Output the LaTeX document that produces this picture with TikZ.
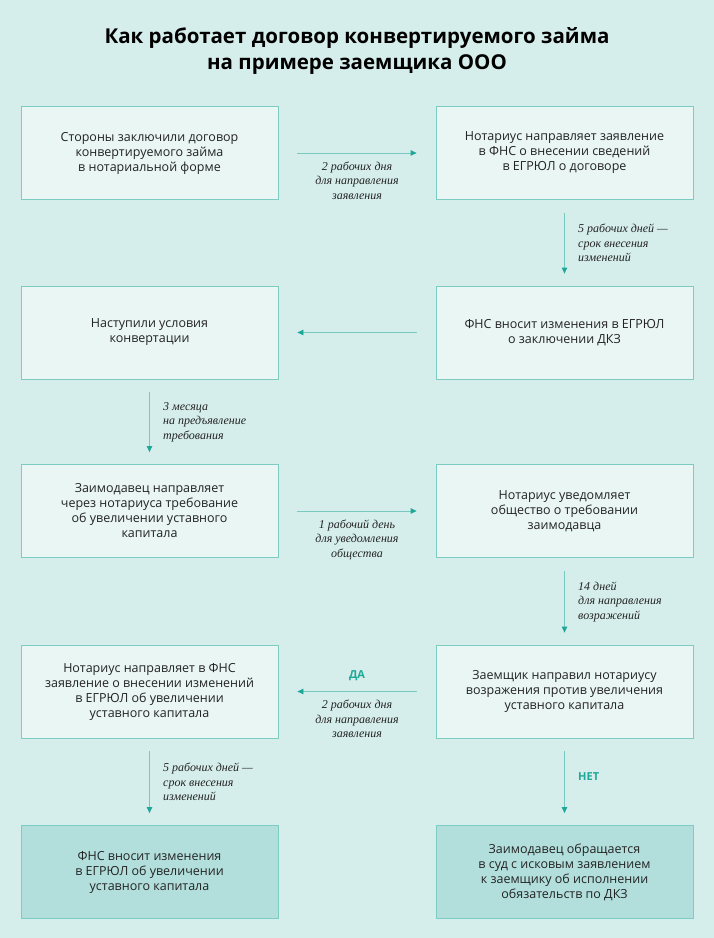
\documentclass[tikz,border=0pt]{standalone}
\usepackage{fontspec}
\setmainfont{Open Sans}
\newfontfamily\notefont{Liberation Serif}
\newfontfamily\titlefont{Open Sans}
\usepackage{xcolor}
\definecolor{mintbg}{RGB}{214,238,235}
\definecolor{mintbox}{RGB}{233,246,244}
\definecolor{mintdark}{RGB}{178,223,220}
\definecolor{mintline}{RGB}{124,204,193}
\definecolor{arrowline}{RGB}{120,202,192}
\definecolor{tealarrow}{RGB}{30,168,152}
\definecolor{darktext}{RGB}{35,35,35}
\usepackage{tikz}
\usetikzlibrary{arrows.meta}

\begin{document}
\begin{tikzpicture}[x=1pt,y=-1pt,
    stage/.style={draw=mintline, fill=mintbox, line width=0.8pt, minimum width=257pt, minimum height=93pt, align=center, text=darktext, font=\fontsize{12.5}{15}\selectfont},
    final/.style={stage, fill=mintdark},
    flow/.style={draw=arrowline, line width=0.8pt, -{Triangle[length=6pt,width=5.5pt,color=tealarrow]}},
    note/.style={text=darktext, font=\notefont\itshape\fontsize{12}{14.5}\selectfont},
    answer/.style={text=tealarrow, font=\bfseries\fontsize{11}{13}\selectfont}]
            % Background
            \fill[mintbg] (0,0) rectangle (714,938);
            \useasboundingbox (0,0) rectangle (714,938);

            % Title
            \node[align=center, text=black, font=\titlefont\bfseries\fontsize{20.5}{26}\selectfont] (title) at (357,51) {Как работает договор конвертируемого займа\\на примере заемщика ООО};

            % Stages
            \node[stage] (signed) at (149.5,153) {Стороны заключили договор\\конвертируемого займа\\в нотариальной форме};
            \node[stage] (notary) at (564.5,153) {Нотариус направляет заявление\\в ФНС о внесении сведений\\в ЕГРЮЛ о договоре};
            \node[stage] (fnsdkz) at (564.5,332.5) {ФНС вносит изменения в ЕГРЮЛ\\о заключении ДКЗ};
            \node[stage] (convert) at (149.5,332.5) {Наступили условия\\конвертации};
            \node[stage] (demand) at (149.5,511) {Заимодавец направляет\\через нотариуса требование\\об увеличении уставного\\капитала};
            \node[stage] (inform) at (564.5,511) {Нотариус уведомляет\\общество о требовании\\заимодавца};
            \node[stage] (object) at (564.5,691.5) {Заемщик направил нотариусу\\возражения против увеличения\\уставного капитала};
            \node[stage] (apply) at (149.5,691.5) {Нотариус направляет в ФНС\\заявление о внесении изменений\\в ЕГРЮЛ об увеличении\\уставного капитала};

            % Outcomes
            \node[final] (fnscap) at (149.5,872) {ФНС вносит изменения\\в ЕГРЮЛ об увеличении\\уставного капитала};
            \node[final] (court) at (564.5,872) {Заимодавец обращается\\в суд с исковым заявлением\\к заемщику об исполнении\\обязательств по ДКЗ};

            % Arrows
            \draw[flow] ([xshift=19pt]signed.east) -- node[note, below=5pt, align=center] {2 рабочих дня\\для направления\\заявления} ([xshift=-19pt]notary.west);
            \draw[flow] ([yshift=-13pt]notary.south) -- node[note, right=10pt, align=left] {5 рабочих дней —\\срок внесения\\изменений} ([yshift=12pt]fnsdkz.north);
            \draw[flow] ([xshift=-19pt]fnsdkz.west) -- ([xshift=19pt]convert.east);
            \draw[flow] ([yshift=-13pt]convert.south) -- node[note, right=10pt, align=left] {3 месяца\\на предъявление\\требования} ([yshift=12pt]demand.north);
            \draw[flow] ([xshift=19pt]demand.east) -- node[note, below=5pt, align=center] {1 рабочий день\\для уведомления\\общества} ([xshift=-19pt]inform.west);
            \draw[flow] ([yshift=-13pt]inform.south) -- node[note, right=10pt, align=left] {14 дней\\для направления\\возражений} ([yshift=12pt]object.north);
            \draw[flow] ([xshift=-19pt]object.west) -- node[answer, above=7pt] {ДА} node[note, below=5pt, align=center] {2 рабочих дня\\для направления\\заявления} ([xshift=19pt]apply.east);
            \draw[flow] ([yshift=-13pt]apply.south) -- node[note, right=10pt, align=left] {5 рабочих дней —\\срок внесения\\изменений} ([yshift=12pt]fnscap.north);
            \draw[flow] ([yshift=-13pt]object.south) -- node[answer, right=10pt, yshift=6pt] {НЕТ} ([yshift=12pt]court.north);
        \end{tikzpicture}
\end{document}
